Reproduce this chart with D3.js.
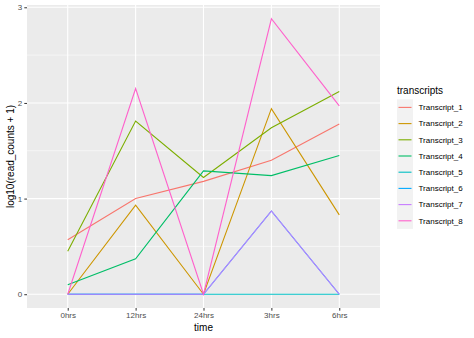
<!DOCTYPE html>
<html>
<head>
<meta charset="utf-8">
<script src="https://cdn.jsdelivr.net/npm/d3@7"></script>
<style>
  html, body { margin: 0; padding: 0; background: #fff; }
  svg { display: block; font-family: "Liberation Sans", Arial, Helvetica, sans-serif; }
</style>
</head>
<body>
<svg id="chart" width="474" height="338"></svg>
<script>
// Time points (ordered as factor levels)
const times = ["0hrs", "12hrs", "24hrs", "3hrs", "6hrs"];

// log10(read_counts + 1) per transcript, one value per time point
const transcriptNames = ["Transcript_1", "Transcript_2", "Transcript_3", "Transcript_4",
                         "Transcript_5", "Transcript_6", "Transcript_7", "Transcript_8"];
const transcript1 = [0.57, 1.00, 1.18, 1.40, 1.78];
const transcript2 = [0.00, 0.93, 0.00, 1.94, 0.83];
const transcript3 = [0.45, 1.81, 1.22, 1.74, 2.12];
const transcript4 = [0.10, 0.37, 1.29, 1.24, 1.45];
const transcript5 = [0.00, 0.00, 0.00, 0.00, 0.00];
const transcript6 = [0.00, 0.00, 0.00, 0.87, 0.00];
const transcript7 = [0.00, 0.00, 0.00, 0.87, 0.00];
const transcript8 = [0.00, 2.15, 0.00, 2.88, 1.97];

const yTicks = [0, 1, 2, 3];
const yMinor = [0.5, 1.5, 2.5];

const colors = ["#F8766D", "#CD9600", "#7CAE00", "#00BE67", "#00BFC4", "#00A9FF", "#C77CFF", "#FF61CC"];

const seriesValues = [transcript1, transcript2, transcript3, transcript4,
                      transcript5, transcript6, transcript7, transcript8];
const series = transcriptNames.map((name, i) => ({
  name,
  color: colors[i],
  points: times.map((t, j) => ({ time: t, value: seriesValues[i][j] }))
}));

const svg = d3.select("#chart");
const panel = { left: 27, top: 5, right: 380, bottom: 308 };

// Scales: discrete x with ggplot-like 0.6 step padding, y expanded by 5%
const x = d3.scalePoint().domain(times).range([panel.left, panel.right]).padding(0.6);
const allVals = seriesValues.flat();
const [vmin, vmax] = d3.extent(allVals);
const pad = (vmax - vmin) * 0.05;
const y = d3.scaleLinear().domain([vmin - pad, vmax + pad]).range([panel.bottom, panel.top]);

// Panel background
svg.append("rect")
  .attr("x", panel.left).attr("y", panel.top)
  .attr("width", panel.right - panel.left).attr("height", panel.bottom - panel.top)
  .attr("fill", "#EBEBEB");

// Grid lines
const grid = svg.append("g").attr("class", "grid");
grid.selectAll("line.minor").data(yMinor).join("line")
  .attr("class", "minor")
  .attr("x1", panel.left).attr("x2", panel.right)
  .attr("y1", d => y(d)).attr("y2", d => y(d))
  .attr("stroke", "#fff").attr("stroke-width", 0.55);
grid.selectAll("line.majory").data(yTicks).join("line")
  .attr("class", "majory")
  .attr("x1", panel.left).attr("x2", panel.right)
  .attr("y1", d => y(d)).attr("y2", d => y(d))
  .attr("stroke", "#fff").attr("stroke-width", 1.1);
grid.selectAll("line.majorx").data(times).join("line")
  .attr("class", "majorx")
  .attr("y1", panel.top).attr("y2", panel.bottom)
  .attr("x1", d => x(d)).attr("x2", d => x(d))
  .attr("stroke", "#fff").attr("stroke-width", 1.1);

// Lines
const line = d3.line().x(d => x(d.time)).y(d => y(d.value));
svg.append("g").selectAll("path").data(series).join("path")
  .attr("d", d => line(d.points))
  .attr("fill", "none")
  .attr("stroke", d => d.color)
  .attr("stroke-width", 1.1)
  .attr("stroke-linejoin", "miter");

// Axes
const xAxis = d3.axisBottom(x).tickSize(2.7).tickPadding(2);
const gx = svg.append("g").attr("transform", `translate(0,${panel.bottom})`).call(xAxis);
gx.select(".domain").remove();
gx.selectAll(".tick line").attr("stroke", "#333").attr("stroke-width", 1);
gx.selectAll(".tick text").attr("fill", "#4D4D4D").attr("font-size", 8)
  .attr("font-family", "Liberation Sans, Arial, sans-serif");

const yAxis = d3.axisLeft(y).tickValues(yTicks).tickFormat(d3.format("d")).tickSize(2.7).tickPadding(2);
const gy = svg.append("g").attr("transform", `translate(${panel.left},0)`).call(yAxis);
gy.select(".domain").remove();
gy.selectAll(".tick line").attr("stroke", "#333").attr("stroke-width", 1);
gy.selectAll(".tick text").attr("fill", "#4D4D4D").attr("font-size", 8)
  .attr("font-family", "Liberation Sans, Arial, sans-serif");

// Axis titles
svg.append("text")
  .attr("x", (panel.left + panel.right) / 2).attr("y", 331)
  .attr("text-anchor", "middle").attr("font-size", 10).attr("fill", "#000")
  .text("time");
svg.append("text")
  .attr("transform", `translate(13.5,${(panel.top + panel.bottom) / 2}) rotate(-90)`)
  .attr("text-anchor", "middle").attr("font-size", 10).attr("fill", "#000")
  .text("log10(read_counts + 1)");

// Legend
const legend = svg.append("g").attr("transform", "translate(397,0)");
legend.append("text").attr("x", 0).attr("y", 94)
  .attr("font-size", 10).attr("fill", "#000").text("transcripts");
const keyH = 16.2, keyTop = 99.3;
legend.append("rect").attr("x", 0).attr("y", keyTop)
  .attr("width", 16).attr("height", keyH * series.length)
  .attr("fill", "#F2F2F2");
const keys = legend.selectAll("g.key").data(series).join("g")
  .attr("class", "key")
  .attr("transform", (d, i) => `translate(0,${keyTop + keyH * i + keyH / 2})`);
keys.append("line").attr("x1", 1.5).attr("x2", 14.5).attr("y1", 0).attr("y2", 0)
  .attr("stroke", d => d.color).attr("stroke-width", 1.1);
keys.append("text").attr("x", 21.5).attr("y", 0).attr("dy", "0.35em")
  .attr("font-size", 8).attr("fill", "#000").text(d => d.name);
</script>
</body>
</html>
